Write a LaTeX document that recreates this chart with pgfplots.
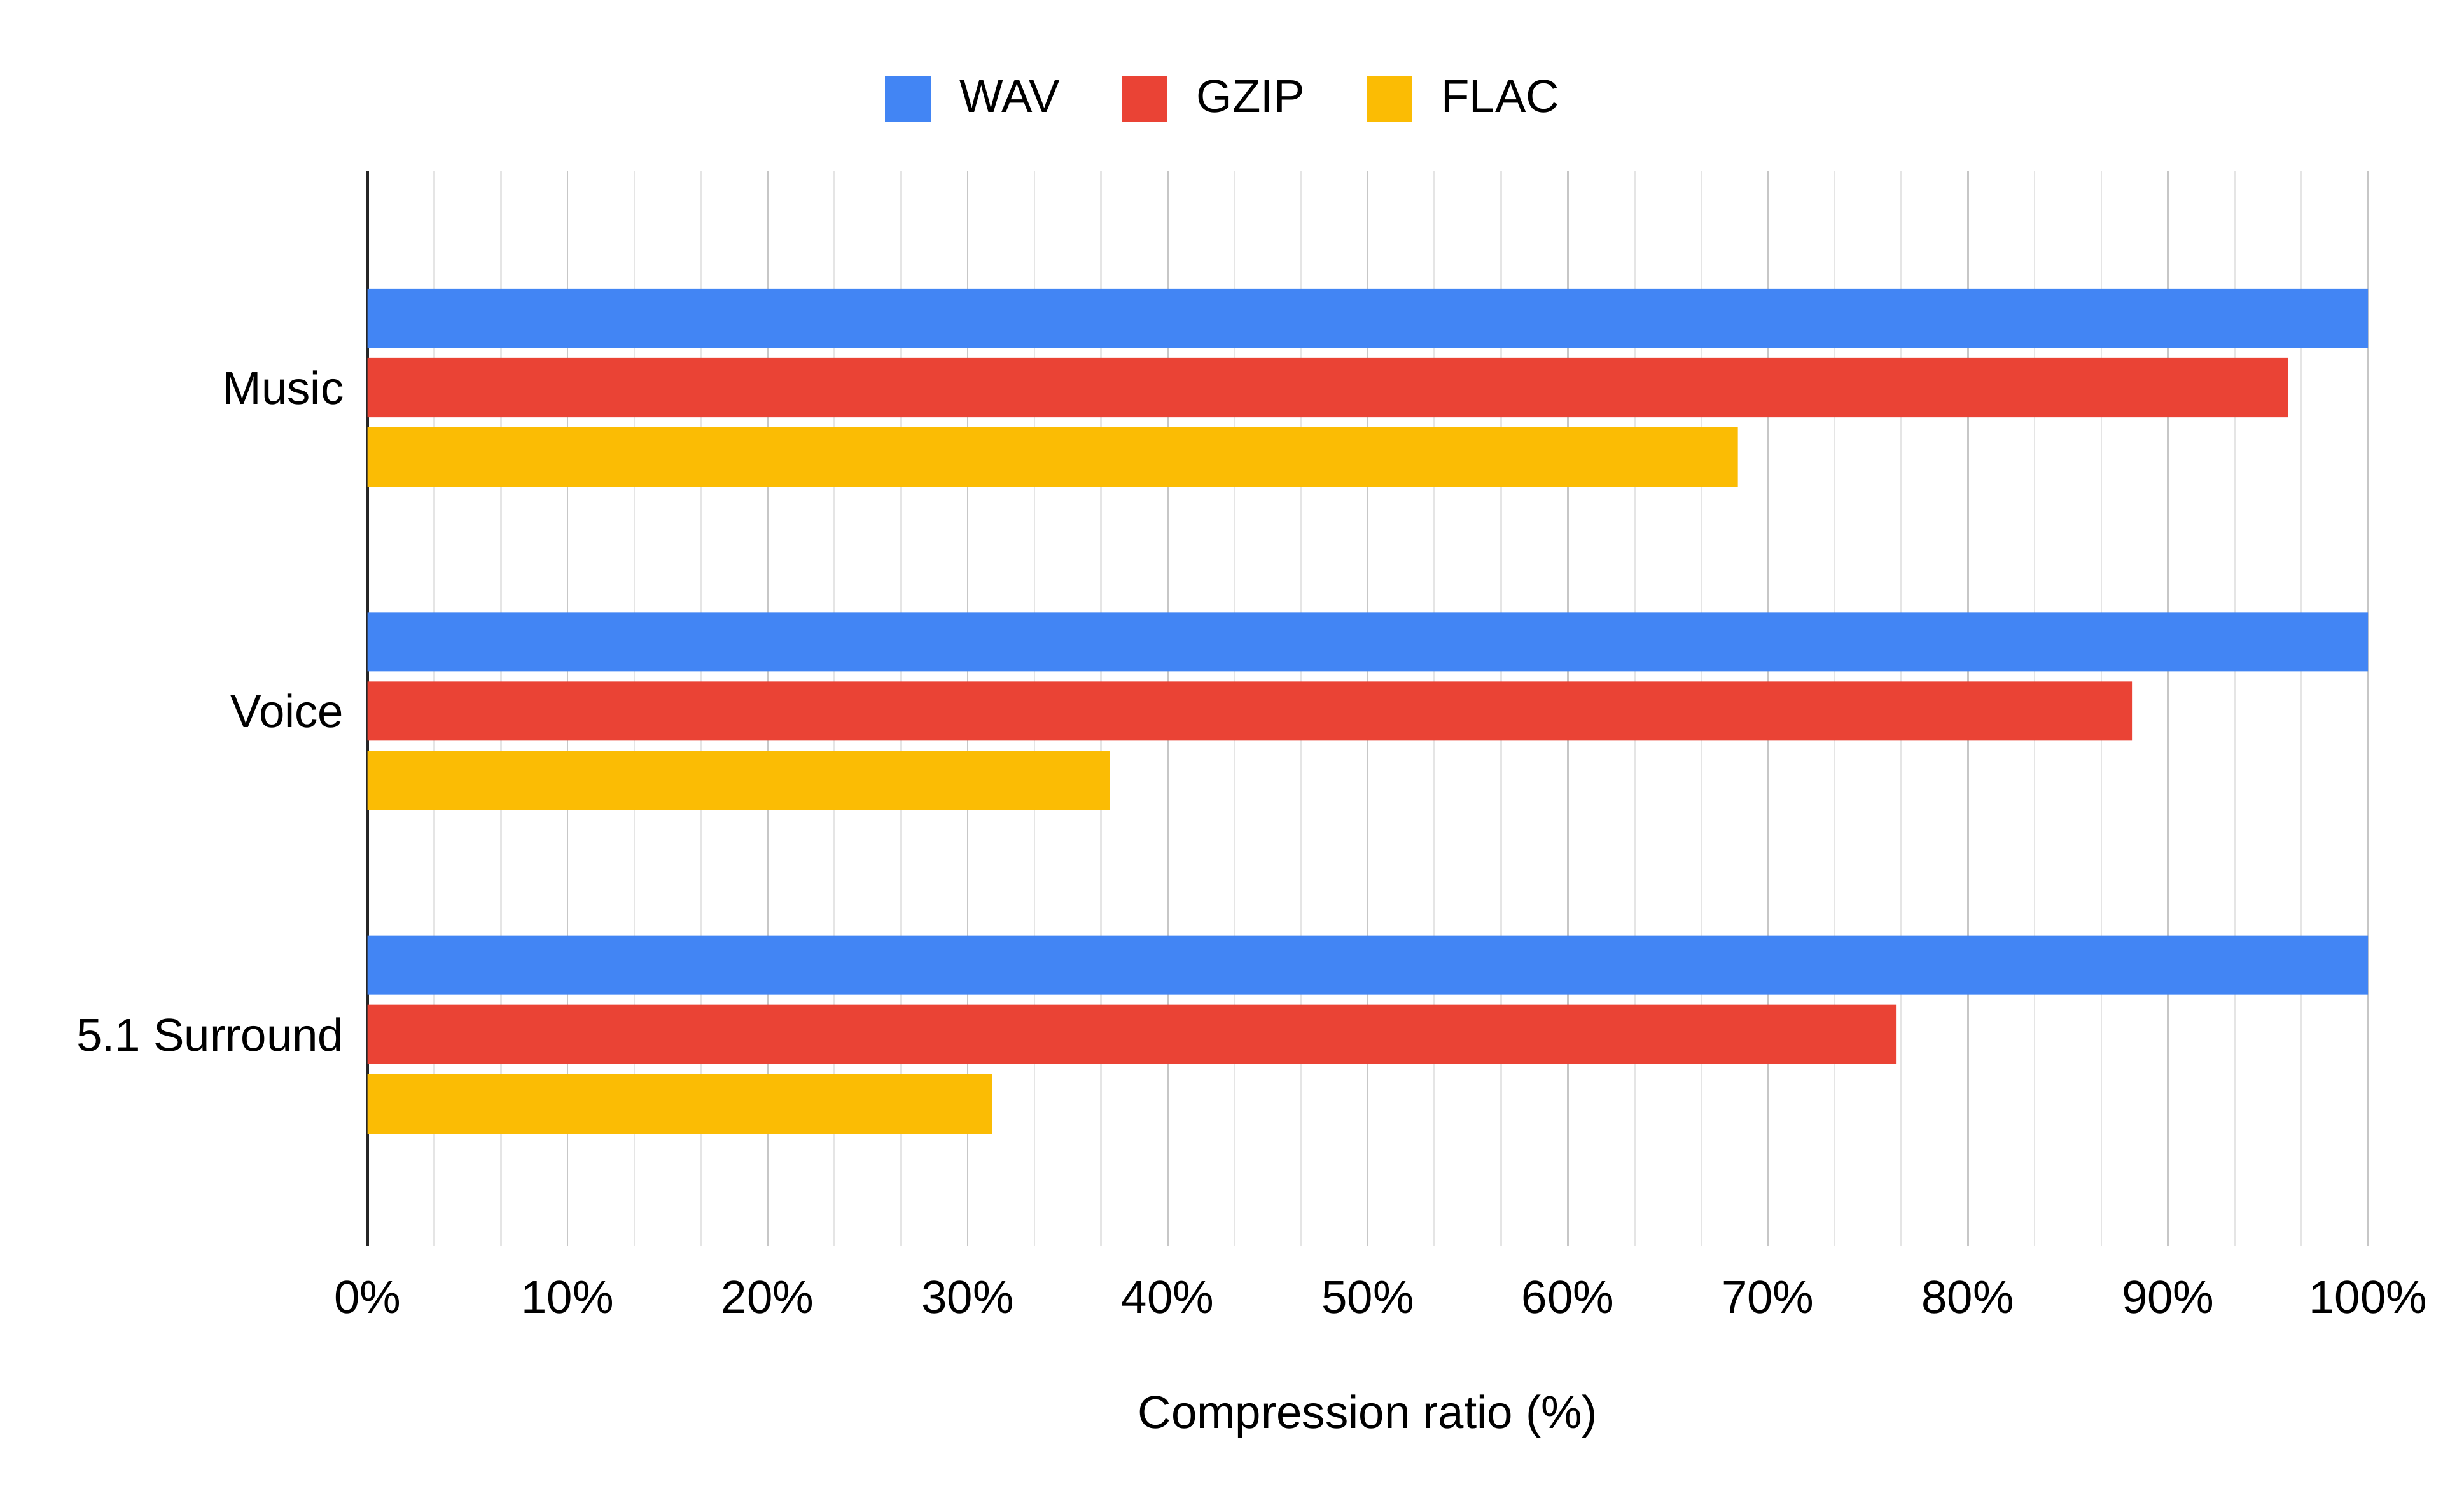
\documentclass[border=0pt]{standalone}
\usepackage{fontspec}
\setmainfont{Liberation Sans}
\usepackage{pgfplots}
\pgfplotsset{compat=1.18}

\definecolor{cwav}{HTML}{4285F4}
\definecolor{cgzip}{HTML}{EA4335}
\definecolor{cflac}{HTML}{FBBC04}
\newcommand\cf{\fontsize{12.7}{15}\selectfont}

\begin{document}
\begin{tikzpicture}
\begin{axis}[
    xbar,
    scale only axis,
    width=549.7pt,
    height=295.5pt,
    y dir=reverse,
    xmin=0, xmax=100,
    ymin=-0.67, ymax=2.655,
    bar width=0.183,
    xtick={0,10,...,100},
    xticklabels={0\%,10\%,20\%,30\%,40\%,50\%,60\%,70\%,80\%,90\%,100\%},
    minor x tick num=2,
    ytick={0,1,2},
    yticklabels={Music,Voice,5.1 Surround},
    major tick length=0pt,
    minor tick length=0pt,
    xmajorgrids=true,
    xminorgrids=true,
    major grid style={draw=black!22, line width=0.45pt},
    minor grid style={draw=black!10, line width=0.45pt},
    axis x line*=bottom,
    axis y line*=left,
    x axis line style={draw=none},
    y axis line style={draw=black!85, line width=0.7pt},
    tick label style={font=\cf},
    xticklabel shift=6pt,
    yticklabel shift=3pt,
    xlabel={Compression ratio (\%)},
    xlabel style={font=\cf, at={(axis description cs:0.5,0)}, anchor=center, yshift=-46.8pt},
    legend columns=3,
    legend style={font=\cf, draw=none, fill=none,
        at={(0.429,1.067)}, anchor=center,
        column sep=6pt},
    /tikz/every even column/.append style={column sep=15pt},
]

\addplot[fill=cwav, draw=none, bar shift=-0.2145,
    legend image code/.code={\fill[cwav] (0pt,-6.3pt) rectangle (12.6pt,6.3pt);}]
    coordinates {(100,0) (100,1) (100,2)};
\addlegendentry{WAV}

\addplot[fill=cgzip, draw=none, bar shift=0,
    legend image code/.code={\fill[cgzip] (0pt,-6.3pt) rectangle (12.6pt,6.3pt);}]
    coordinates {(96,0) (88.2,1) (76.4,2)};
\addlegendentry{GZIP}

\addplot[fill=cflac, draw=none, bar shift=0.2145,
    legend image code/.code={\fill[cflac] (0pt,-6.3pt) rectangle (12.6pt,6.3pt);}]
    coordinates {(68.5,0) (37.1,1) (31.2,2)};
\addlegendentry{FLAC}

\end{axis}
\pgfresetboundingbox
\path (-101pt,-72.9pt) rectangle (570.3pt,342.5pt);
\end{tikzpicture}
\end{document}
